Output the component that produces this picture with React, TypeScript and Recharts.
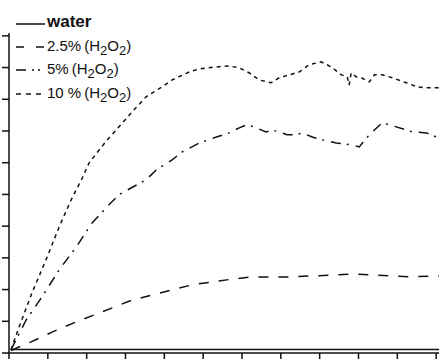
import { LineChart, Line, XAxis, YAxis } from 'recharts';

// tick positions (labels are cropped out in the source)
const xTicks = [0, 1, 2, 3, 4, 5, 6, 7, 8, 9, 10, 11, 12];
const yTicks = [0, 1, 2, 3, 4, 5, 6, 7, 8, 9, 10];

const water = [
  { x: 0.05, y: 0.11 }, { x: 2, y: 0.11 }, { x: 4, y: 0.11 }, { x: 6, y: 0.11 },
  { x: 8, y: 0.11 }, { x: 10, y: 0.11 }, { x: 11.2, y: 0.11 },
];

const h2o2_25 = [
  { x: 0.05, y: 0.08 }, { x: 0.57, y: 0.35 }, { x: 1.11, y: 0.66 }, { x: 1.73, y: 0.98 },
  { x: 2.32, y: 1.26 }, { x: 3.17, y: 1.67 }, { x: 3.69, y: 1.83 }, { x: 4.2, y: 1.99 },
  { x: 4.72, y: 2.15 }, { x: 5.23, y: 2.24 }, { x: 5.75, y: 2.33 }, { x: 6.26, y: 2.4 },
  { x: 6.78, y: 2.4 }, { x: 7.29, y: 2.4 }, { x: 7.81, y: 2.43 }, { x: 8.32, y: 2.46 },
  { x: 8.84, y: 2.49 }, { x: 9.36, y: 2.46 }, { x: 9.87, y: 2.43 }, { x: 10.39, y: 2.4 },
  { x: 10.9, y: 2.43 }, { x: 11.2, y: 2.42 },
];

const h2o2_5 = [
  { x: 0.05, y: 0.1 }, { x: 0.44, y: 1.04 }, { x: 0.85, y: 1.77 }, { x: 1.29, y: 2.62 },
  { x: 1.73, y: 3.34 }, { x: 2.14, y: 4.1 }, { x: 2.58, y: 4.68 }, { x: 2.84, y: 5.0 },
  { x: 3.53, y: 5.46 }, { x: 3.79, y: 5.77 }, { x: 4.2, y: 6.09 }, { x: 4.46, y: 6.34 },
  { x: 4.9, y: 6.62 }, { x: 5.34, y: 6.81 }, { x: 5.67, y: 6.94 }, { x: 5.93, y: 7.1 },
  { x: 6.11, y: 7.19 }, { x: 6.31, y: 7.13 }, { x: 6.62, y: 6.97 }, { x: 6.78, y: 7.03 },
  { x: 6.96, y: 6.97 }, { x: 7.16, y: 6.88 }, { x: 7.4, y: 6.88 }, { x: 7.55, y: 6.94 },
  { x: 7.81, y: 6.81 }, { x: 8.07, y: 6.72 }, { x: 8.43, y: 6.62 }, { x: 8.84, y: 6.56 },
  { x: 9.02, y: 6.5 }, { x: 9.23, y: 6.81 }, { x: 9.41, y: 7.03 }, { x: 9.61, y: 7.26 },
  { x: 9.97, y: 7.13 }, { x: 10.39, y: 6.97 }, { x: 10.75, y: 6.94 }, { x: 11.01, y: 6.81 },
  { x: 11.2, y: 6.78 },
];

const h2o2_10 = [
  { x: 0.05, y: 0.1 }, { x: 0.26, y: 0.82 }, { x: 0.59, y: 1.89 }, { x: 0.95, y: 2.93 },
  { x: 1.29, y: 3.97 }, { x: 1.6, y: 4.83 }, { x: 1.88, y: 5.5 }, { x: 2.06, y: 5.99 },
  { x: 2.32, y: 6.4 }, { x: 2.53, y: 6.72 }, { x: 2.76, y: 7.03 }, { x: 3.17, y: 7.6 },
  { x: 3.53, y: 8.08 }, { x: 3.94, y: 8.39 }, { x: 4.2, y: 8.61 }, { x: 4.64, y: 8.86 },
  { x: 4.9, y: 8.96 }, { x: 5.34, y: 9.02 }, { x: 5.67, y: 9.05 }, { x: 5.93, y: 8.99 },
  { x: 6.19, y: 8.83 }, { x: 6.44, y: 8.61 }, { x: 6.75, y: 8.52 }, { x: 6.96, y: 8.68 },
  { x: 7.22, y: 8.77 }, { x: 7.47, y: 8.86 }, { x: 7.73, y: 9.09 }, { x: 8.04, y: 9.18 },
  { x: 8.3, y: 9.02 }, { x: 8.56, y: 8.77 }, { x: 8.71, y: 8.71 }, { x: 8.76, y: 8.45 },
  { x: 8.81, y: 8.83 }, { x: 8.94, y: 8.71 }, { x: 9.07, y: 8.68 }, { x: 9.28, y: 8.55 },
  { x: 9.41, y: 8.77 }, { x: 9.61, y: 8.77 }, { x: 9.87, y: 8.68 }, { x: 10.23, y: 8.52 },
  { x: 10.52, y: 8.39 }, { x: 10.75, y: 8.36 }, { x: 11.03, y: 8.36 }, { x: 11.2, y: 8.36 },
];

const INK = '#111';
const FONT = '"Liberation Sans", Arial, sans-serif';

const legendRows = [
  { label: 'water', dash: undefined as string | undefined, top: 13 },
  { label: '2.5%', dash: '8 12', top: 37 },
  { label: '5%', dash: '10 6 2 4 2 20', top: 60 },
  { label: '10 %', dash: '5 5', top: 84 },
];

const subStyle = { fontSize: 13, verticalAlign: -4, lineHeight: 0 };

function LegendBox() {
  return (
    <div style={{ position: 'absolute', left: 0, top: 0, fontFamily: FONT, color: INK }}>
      {legendRows.map((r, i) => (
        <div key={i} style={{ position: 'absolute', top: r.top, left: 0, height: 20, width: 200 }}>
          <svg width={46} height={20} style={{ position: 'absolute', left: 0, top: 0 }}>
            <line x1={16} x2={45} y1={i === 0 ? 11 : 10} y2={i === 0 ? 11 : 10} stroke={INK} strokeWidth={1.5} strokeDasharray={r.dash} />
          </svg>
          {i === 0 ? (
            <span style={{ position: 'absolute', left: 47, top: -1, fontSize: 17, fontWeight: 700, whiteSpace: 'nowrap' }}>water</span>
          ) : (
            <span style={{ position: 'absolute', left: 47, top: 0, fontSize: 15, lineHeight: '18px', whiteSpace: 'nowrap' }}>
              {r.label}
              <span style={{ marginLeft: 3 }}>(H<span style={subStyle}>2</span>O<span style={subStyle}>2</span>)</span>
            </span>
          )}
        </div>
      ))}
    </div>
  );
}

export default function App() {
  return (
    <div style={{ position: 'absolute', left: 0, top: 0, width: 439, height: 361, overflow: 'hidden', background: '#fff' }}>
      <LineChart width={475} height={361} margin={{ top: 33, right: 0, bottom: 0, left: 0 }}>
        <XAxis
          type="number" dataKey="x" domain={[0, 12]} ticks={xTicks}
          tickFormatter={() => ''} tickSize={6} height={8}
          stroke={INK} strokeWidth={1.5} allowDataOverflow
        />
        <YAxis
          type="number" dataKey="y" domain={[0, 10.09]} ticks={yTicks}
          tickFormatter={() => ''} tickSize={7} width={9}
          stroke={INK} strokeWidth={1.5} allowDataOverflow
        />
        <Line data={water} dataKey="y" type="linear" stroke={INK} strokeWidth={1.4} dot={false} isAnimationActive={false} />
        <Line data={h2o2_25} dataKey="y" type="linear" stroke={INK} strokeWidth={1.5} strokeDasharray="10 10" dot={false} isAnimationActive={false} />
        <Line data={h2o2_5} dataKey="y" type="linear" stroke={INK} strokeWidth={1.5} strokeDasharray="10 6 2 7" dot={false} isAnimationActive={false} />
        <Line data={h2o2_10} dataKey="y" type="linear" stroke={INK} strokeWidth={1.5} strokeDasharray="4 4" dot={false} isAnimationActive={false} />
      </LineChart>
      <LegendBox />
    </div>
  );
}
